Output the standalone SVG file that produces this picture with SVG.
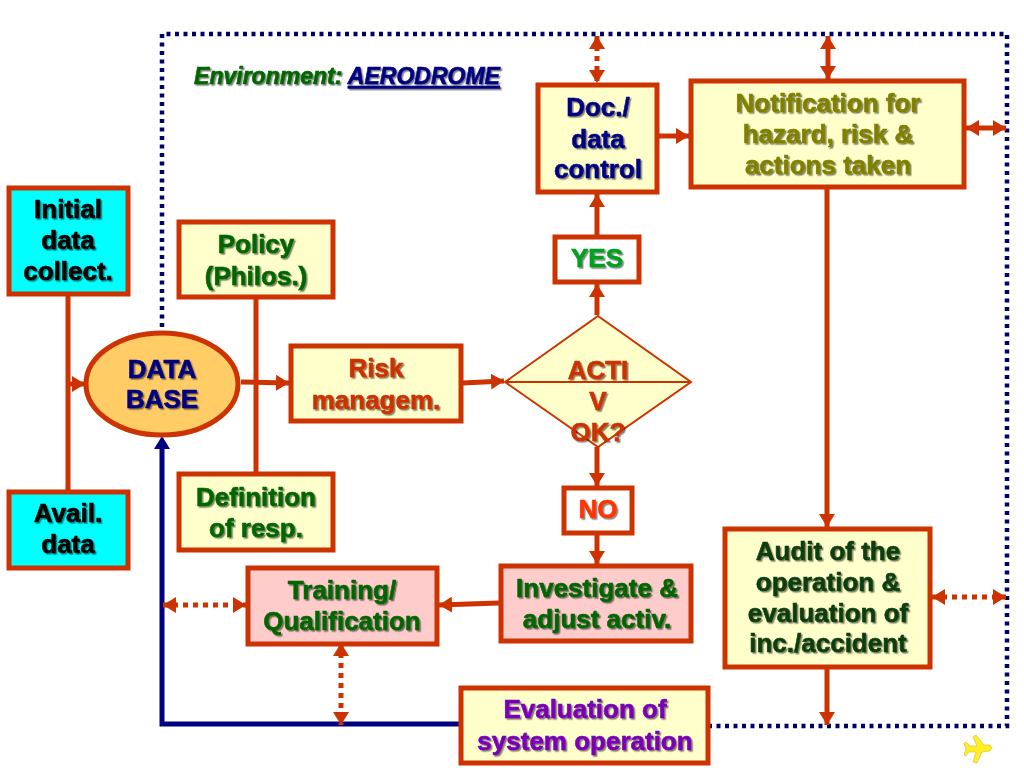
<svg xmlns="http://www.w3.org/2000/svg" width="1024" height="768" viewBox="0 0 1024 768">
<style>
.b{stroke:#cc3300;stroke-width:5}
.y{fill:#ffffcc}.c{fill:#00ffff}.p{fill:#ffcccc}
text{font-family:"Liberation Sans",Arial,sans-serif;font-weight:bold;font-size:26px;text-anchor:middle;stroke-width:.6;filter:url(#sh)}
.navy{fill:#000080;stroke:#000080}.green{fill:#006600;stroke:#006600}.red{fill:#cc3300;stroke:#cc3300}.olive{fill:#808000;stroke:#808000}.purple{fill:#7a00b8;stroke:#7a00b8}.blk{fill:#000;stroke:#000}.lime{fill:#00a020;stroke:#00a020}.dg{fill:#0a3d0a;stroke:#0a3d0a}.nored{fill:#ff3300;stroke:#ff3300}
.l{fill:none;stroke:#cc3300;stroke-width:5}
.e{marker-end:url(#a)}.s{marker-start:url(#r)}
.d{stroke-dasharray:5 5}
.f{fill:none;stroke:#000066;stroke-width:4.5;stroke-dasharray:4 4.5}
</style>
<defs>
<filter id="sh" x="-10%" y="-10%" width="125%" height="130%"><feDropShadow dx="1.5" dy="1.5" stdDeviation=".7" flood-color="#000" flood-opacity=".5"/></filter>
<marker id="a" markerUnits="userSpaceOnUse" markerWidth="14" markerHeight="16" refX="13" refY="8" orient="auto"><path d="M0 0L13 8L0 16Z" fill="#cc3300"/></marker>
<marker id="r" markerUnits="userSpaceOnUse" markerWidth="14" markerHeight="16" refX="0" refY="8" orient="auto"><path d="M13 0L0 8L13 16Z" fill="#cc3300"/></marker>
</defs>
<rect width="1024" height="768" fill="#fff"/>
<g id="connectors">
<path class="f" d="M162 327V34H1007V726H710"/>
<path d="M459 724H162V445" fill="none" stroke="#000080" stroke-width="5"/>
<path d="M162 436L170 449H154Z" fill="#000080"/>
<path class="l" d="M68 292V490"/>
<path class="l e" d="M68 384H85"/>
<path class="l" d="M256 299V472"/>
<path class="l e" d="M241 382L289 383"/>
<path class="l e" d="M463 383L504 381"/>
<path class="l e" d="M597 315V284"/>
<path class="l e" d="M597 235V194"/>
<path class="l e" d="M659 136H689"/>
<path class="l e s d" d="M597 36V83"/>
<path class="l e s" d="M828 36V79"/>
<path class="l e s" d="M966 128H1006"/>
<path class="l e" d="M827 189V527"/>
<path class="l e" d="M597 447V486"/>
<path class="l e" d="M597 535V564"/>
<path class="l e" d="M499 603L439 605"/>
<path class="l e s d" d="M163 605H246"/>
<path class="l e s d" d="M341 643V725"/>
<path class="l e s d" d="M932 597H1006"/>
<path class="l e" d="M827 669V725"/>
</g>
<g id="initial"><rect class="b c" x="9" y="188" width="119" height="106"/><text class="blk"><tspan x="68" y="218">Initial</tspan><tspan x="68" y="249">data</tspan><tspan x="68" y="280">collect.</tspan></text></g>
<g id="avail"><rect class="b c" x="9" y="492" width="119" height="76"/><text class="blk"><tspan x="68" y="522">Avail.</tspan><tspan x="68" y="553">data</tspan></text></g>
<g id="policy"><rect class="b y" x="179" y="222" width="154" height="75"/><text class="green"><tspan x="256" y="253">Policy</tspan><tspan x="256" y="285">(Philos.)</tspan></text></g>
<g id="definition"><rect class="b y" x="179" y="474" width="154" height="76"/><text class="green"><tspan x="256" y="506">Definition</tspan><tspan x="256" y="537">of resp.</tspan></text></g>
<g id="database"><ellipse cx="162" cy="384" rx="76" ry="51" fill="#ffcc66" stroke="#cc3300" stroke-width="5"/><text class="navy"><tspan x="162" y="378">DATA</tspan><tspan x="162" y="408">BASE</tspan></text></g>
<g id="risk"><rect class="b y" x="291" y="346" width="170" height="75"/><text class="red"><tspan x="376" y="377">Risk</tspan><tspan x="376" y="409">managem.</tspan></text></g>
<g id="activ"><path d="M598 316L691 382L598 447L505 382Z" fill="#ffffcc" stroke="#cc3300" stroke-width="2"/><path d="M505 382H691" stroke="#cc3300" stroke-width="2"/><text class="red"><tspan x="598" y="379">ACTI</tspan><tspan x="598" y="410">V</tspan><tspan x="598" y="441">OK?</tspan></text></g>
<g id="yes"><rect class="b" fill="#fff" x="555" y="237" width="84" height="45"/><text class="lime" x="597" y="267">YES</text></g>
<g id="no"><rect class="b" fill="#fff" x="564" y="488" width="68" height="45"/><text class="nored" x="598" y="518">NO</text></g>
<g id="doc"><rect class="b y" x="538" y="85" width="119" height="107"/><text class="navy"><tspan x="598" y="116">Doc./</tspan><tspan x="598" y="148">data</tspan><tspan x="598" y="178">control</tspan></text></g>
<g id="notification"><rect class="b y" x="691" y="81" width="273" height="106"/><text class="olive"><tspan x="828" y="112">Notification for</tspan><tspan x="828" y="143">hazard, risk &amp;</tspan><tspan x="828" y="174">actions taken</tspan></text></g>
<g id="investigate"><rect class="b p" x="501" y="566" width="190" height="75"/><text class="green"><tspan x="597" y="597">Investigate &amp;</tspan><tspan x="597" y="628">adjust activ.</tspan></text></g>
<g id="training"><rect class="b p" x="248" y="568" width="189" height="76"/><text class="green"><tspan x="342" y="599">Training/</tspan><tspan x="342" y="630">Qualification</tspan></text></g>
<g id="audit"><rect class="b y" x="725" y="529" width="205" height="138"/><text class="dg"><tspan x="828" y="560">Audit of the</tspan><tspan x="828" y="591">operation &amp;</tspan><tspan x="828" y="622">evaluation of</tspan><tspan x="828" y="652">inc./accident</tspan></text></g>
<g id="evaluation"><rect class="b y" x="461" y="688" width="247" height="75"/><text class="purple"><tspan x="585" y="718">Evaluation of</tspan><tspan x="585" y="750">system operation</tspan></text></g>
<g id="label"><text x="347" y="84" style="font-size:23px;font-style:italic"><tspan class="green">Environment: </tspan><tspan class="navy" text-decoration="underline">AERODROME</tspan></text></g>
<g id="plane"><path d="M992 748L990 751L982 752L977 763L973 762L976 752L969 752L966 756L964 755L966 749L964 743L966 742L970 746L977 746L973 737L976 735L984 745L990 745Z" fill="#ffee22" stroke="#d8cc50" stroke-width=".8"/></g>
</svg>
